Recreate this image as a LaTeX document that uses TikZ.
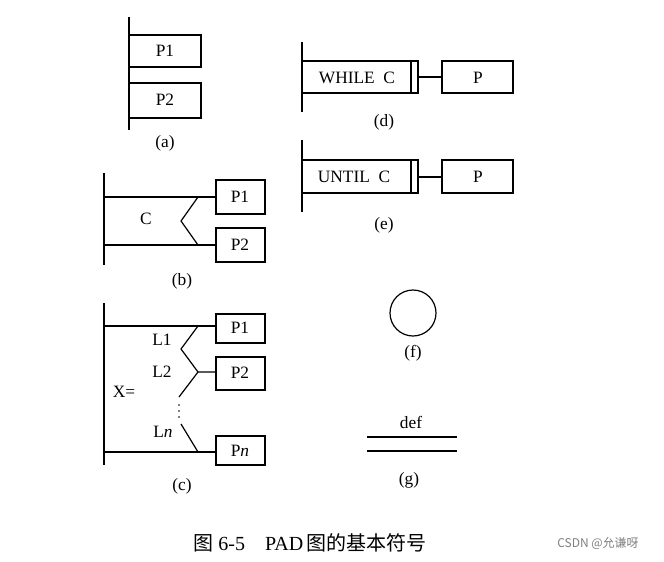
\documentclass[tikz,border=0pt]{standalone}
\usepackage{fontspec}
\setmainfont{Liberation Serif}
\newfontfamily\cjk{Noto Sans CJK SC}
\begin{document}
\begin{tikzpicture}[x=0.75pt,y=-0.75pt,
  ln/.style={line width=0.9pt},
  bx/.style={draw,line width=0.9pt},
  txt/.style={font=\fontsize{13}{15}\selectfont,inner sep=0pt},
  lbl/.style={font=\fontsize{13}{15}\selectfont,inner sep=0pt}]
\fill[white] (0,0) rectangle (664,561);
\useasboundingbox (0,0) rectangle (664,561);
% (a)
\draw[ln] (129,17) -- (129,130);
\draw[bx] (129,35) rectangle (201,67);
\draw[bx] (129,83) rectangle (201,118);
\node[txt] (a1) at (165,51) {P1};
\node[txt] (a2) at (165,100) {P2};
\node[lbl] (la) at (165,143) {(a)};
% (b)
\draw[ln] (104,173) -- (104,265);
\draw[ln] (104,197) -- (216,197);
\draw[ln] (104,245) -- (216,245);
\draw[ln] (198,197) -- (181,221) -- (198,245);
\draw[bx] (216,180) rectangle (265,214);
\draw[bx] (216,228) rectangle (265,262);
\node[txt] (b1) at (240,197) {P1};
\node[txt] (b2) at (240,245) {P2};
\node[txt] (bc) at (146,219) {C};
\node[lbl] (lb) at (182,281) {(b)};
% (c)
\draw[ln] (104,303) -- (104,465);
\draw[ln] (104,326) -- (216,326);
\draw[ln] (104,452) -- (216,452);
\draw[ln] (198,326) -- (181,349) -- (198,372) -- (216,372);
\draw[ln] (198,372) -- (179,397);
\draw[ln] (181,424) -- (198,452);
\draw[bx] (216,314) rectangle (265,343);
\draw[bx] (216,357) rectangle (265,390);
\draw[bx] (216,436) rectangle (265,465);
\node[txt] (c1) at (240,328) {P1};
\node[txt] (c2) at (240,373) {P2};
\node[txt] (cn) at (240,451) {P\textit{n}};
\node[txt] (l1) at (162,340) {L1};
\node[txt] (l2) at (162,372) {L2};
\node[txt] (ln) at (163,432) {L\textit{n}};
\node[txt] (xe) at (124,392) {X=};
\foreach \yy in {405,411,417} \fill (179,\yy) circle (0.9);
\node[lbl] (lc) at (182,486) {(c)};
% (d)
\draw[ln] (302,42) -- (302,112);
\draw[bx] (302,61) rectangle (418,93);
\draw[ln] (411,61) -- (411,93);
\draw[ln] (418,77) -- (442,77);
\draw[bx] (442,61) rectangle (513,93);
\node[txt] (w) at (357,78) {WHILE\ \ C};
\node[txt] (dp) at (478,78) {P};
\node[lbl] (ld) at (384,122) {(d)};
% (e)
\draw[ln] (302,140) -- (302,212);
\draw[bx] (302,160) rectangle (418,193);
\draw[ln] (411,160) -- (411,193);
\draw[ln] (418,177) -- (442,177);
\draw[bx] (442,160) rectangle (513,193);
\node[txt] (u) at (354,177) {UNTIL\ \ C};
\node[txt] (ep) at (478,177) {P};
\node[lbl] (le) at (384,225) {(e)};
% (f)
\draw[ln] (413,313) circle (23);
\node[lbl] (lf) at (413,353) {(f)};
% (g)
\node[txt] (def) at (411,422) {def};
\draw[ln] (367,437) -- (457,437);
\draw[ln] (367,451) -- (457,451);
\node[lbl] (lg) at (409,480) {(g)};
% caption
\node[inner sep=0pt,font=\fontsize{15}{18}\selectfont] (cap) at (310,543) {{\cjk 图}\ 6-5\quad PAD\,{\cjk 图的基本符号}};
\node[inner sep=0pt,text=gray,font=\fontsize{9}{11}\selectfont\cjk] (wm) at (598,543) {CSDN @允谦呀};
\end{tikzpicture}
\end{document}
